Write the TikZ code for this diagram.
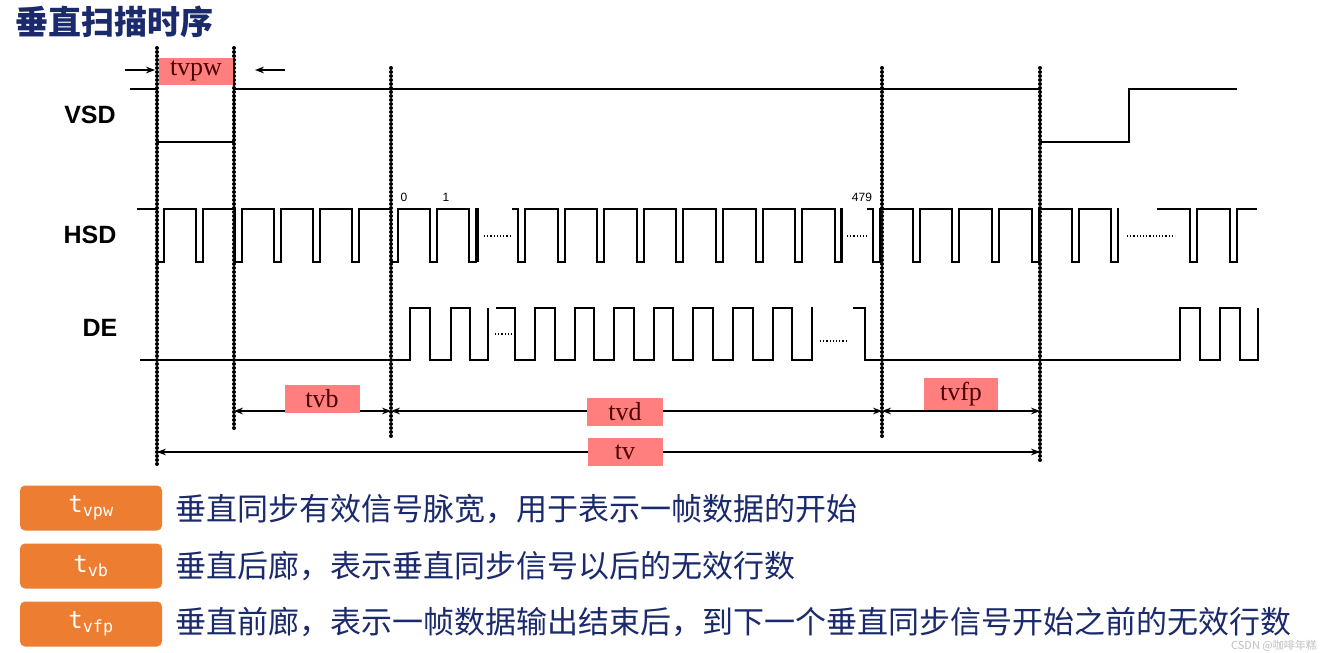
\documentclass[tikz,border=0pt]{standalone}
\usepackage{fontspec}
\setmainfont{Liberation Serif}
\setsansfont{Liberation Sans}
\setmonofont{DejaVu Sans Mono}
\newfontfamily\cjk{Noto Sans CJK SC}
\usetikzlibrary{arrows.meta}
\definecolor{navy}{HTML}{1A2A6C}
\definecolor{lbl}{HTML}{FF7F7F}
\definecolor{org}{HTML}{ED7D31}
\tikzset{
 sig/.style={line width=2pt},
 vline/.style={line width=4pt,line cap=round,dash pattern=on 0pt off 4pt},
 dim/.style={line width=1.2pt,{Stealth[length=9pt]}-{Stealth[length=9pt]}},
 tag/.style={fill=lbl,inner sep=0pt,minimum height=28pt,font=\fontsize{26}{26}\selectfont,text=black!70!red},
 sname/.style={font=\sffamily\bfseries\fontsize{25}{25}\selectfont,anchor=center},
 obox/.style={fill=org,rounded corners=5pt,minimum width=142pt,minimum height=45pt,text=white,font=\ttfamily\fontsize{24}{24}\selectfont},
 ltxt/.style={anchor=west,text=navy,font=\cjk\fontsize{31}{31}\selectfont},
 num/.style={font=\sffamily\fontsize{12}{12}\selectfont}
}
\begin{document}
\begin{tikzpicture}[x=1pt,y=-1pt]
\useasboundingbox (0,0) rectangle (1320,653);
\node[anchor=west,text=navy,font=\cjk\bfseries\fontsize{33}{33}\selectfont] (title) at (12,22) {垂直扫描时序};
% signal names
\node[sname] (vsd) at (90,115) {VSD};
\node[sname] (hsd) at (90,235) {HSD};
\node[sname] (de) at (100,328) {DE};
% VSD
\draw[sig] (130,89) -- (157,89) -- (157,142) -- (234,142) -- (234,89) -- (1040,89) -- (1040,142) -- (1129,142) -- (1129,89) -- (1237,89);
% HSD
\def\hi{209}\def\lo{262}
\draw[sig] (137,\hi) foreach \k in {0,...,8} {-- ({157+39*\k},\hi) -- ({157+39*\k},\lo) -- ({164+39*\k},\lo) -- ({164+39*\k},\hi)} -- (478,\hi) -- (478,262);
\draw[sig] (512,\hi) foreach \k in {0,...,8} {-- ({518+39.6*\k},\hi) -- ({518+39.6*\k},\lo) -- ({525+39.6*\k},\lo) -- ({525+39.6*\k},\hi)} -- (841,\hi) -- (841,262);
\draw[sig] (867,\hi) foreach \k in {0,...,6} {-- ({873+39.7*\k},\hi) -- ({873+39.7*\k},\lo) -- ({880+39.7*\k},\lo) -- ({880+39.7*\k},\hi)} -- (1118,\hi) -- (1118,262);
\draw[sig] (1157,\hi) foreach \x in {1190,1230} {-- (\x,\hi) -- (\x,\lo) -- (\x+7,\lo) -- (\x+7,\hi)} -- (1257,\hi);
\draw[line width=1.2pt,dotted] (484,236) -- (512,236);
\draw[line width=1.2pt,dotted] (847,236) -- (868,236);
\draw[line width=1.2pt,dotted] (1127,236) -- (1175,236);
% DE
\def\dh{308}\def\dl{360}
\draw[sig] (140,\dl) -- (410,\dl) -- (410,\dh) -- (430,\dh) -- (430,\dl) -- (451,\dl) -- (451,\dh) -- (470,\dh) -- (470,\dl) -- (488,\dl) -- (488,\dh);
\draw[sig] (496,\dh) foreach \k in {0,...,7} {-- ({515+39.6*\k},\dh) -- ({515+39.6*\k},\dl) -- ({535+39.6*\k},\dl) -- ({535+39.6*\k},\dh)} -- (812,\dh) -- (812,\dl);
\draw[sig] (853,\dh) -- (865,\dh) -- (865,\dl) -- (1180,\dl) -- (1180,\dh) -- (1200,\dh) -- (1200,\dl) -- (1220,\dl) -- (1220,\dh) -- (1240,\dh) -- (1240,\dl) -- (1258,\dl) -- (1258,\dh);
\draw[line width=1.2pt,dotted] (495,334) -- (514,334);
\draw[line width=1.2pt,dotted] (820,341) -- (848,341);
% numbers
\node[num] (n0) at (404,197) {0};
\node[num] (n1) at (446,197) {1};
\node[num] (n479) at (862,197) {479};
% dotted verticals
\coordinate (a) at (157,48); \coordinate (a2) at (157,465);
\coordinate (b) at (234,48); \coordinate (b2) at (234,430);
\coordinate (c) at (391,68); \coordinate (c2) at (391,437);
\coordinate (d) at (882,68); \coordinate (d2) at (882,437);
\coordinate (e) at (1040,68); \coordinate (e2) at (1040,462);
\foreach \p in {a,b,c,d,e} \draw[vline] (\p) -- (\p2);
% tvpw
\coordinate (p1) at (125,70); \coordinate (p2) at (155,70);
\coordinate (p3) at (285,70); \coordinate (p4) at (255,70);
\draw[line width=1.6pt,-{Stealth[length=9pt]}] (p1) -- (p2);
\draw[line width=1.6pt,-{Stealth[length=9pt]}] (p3) -- (p4);
\node[tag,minimum width=74pt,minimum height=27pt] (tvpw) at (196,71) {tvpw};
% dimension arrows
\coordinate (tb1) at (234,411); \coordinate (tb2) at (391,411);
\coordinate (td1) at (391,411); \coordinate (td2) at (882,411);
\coordinate (tf1) at (882,411); \coordinate (tf2) at (1040,411);
\coordinate (tv1) at (157,452); \coordinate (tv2) at (1040,452);
\draw[dim] (tb1) -- (tb2);
\draw[dim] (td1) -- (td2);
\draw[dim] (tf1) -- (tf2);
\draw[dim] (tv1) -- (tv2);
\node[tag,minimum width=75pt] (tvb) at (322,399) {tvb};
\node[tag,minimum width=76pt] (tvd) at (625,412) {tvd};
\node[tag,minimum width=74pt,minimum height=32pt] (tvfp) at (961,394) {tvfp};
\node[tag,minimum width=75pt] (tv) at (625,452) {tv};
% legend
\node[obox] (l1) at (91,508) {t\textsubscript{vpw}};
\node[obox] (l2) at (91,566) {t\textsubscript{vb}};
\node[obox] (l3) at (91,624) {t\textsubscript{vfp}};
\node[ltxt] (t1) at (172,509) {垂直同步有效信号脉宽，用于表示一帧数据的开始};
\node[ltxt] (t2) at (172,566) {垂直后廊，表示垂直同步信号以后的无效行数};
\node[ltxt] (t3) at (172,622) {垂直前廊，表示一帧数据输出结束后，到下一个垂直同步信号开始之前的无效行数};
\node[anchor=south east,inner sep=1pt,text=black!25,font=\cjk\fontsize{11}{11}\selectfont] (wm) at (1318,653) {CSDN @咖啡年糕};
\end{tikzpicture}
\end{document}
